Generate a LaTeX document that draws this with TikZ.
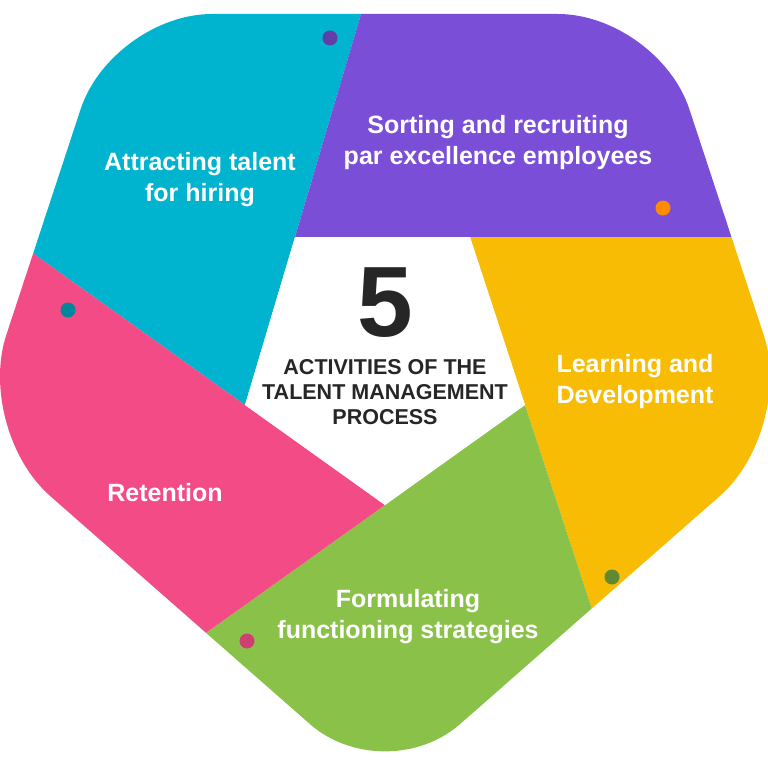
\documentclass[tikz,border=0pt]{standalone}
\usepackage{fontspec}
\setmainfont{Liberation Sans}
\definecolor{cyanseg}{HTML}{00B4CF}
\definecolor{purpleseg}{HTML}{7A4ED6}
\definecolor{yellowseg}{HTML}{F9BC05}
\definecolor{greenseg}{HTML}{8AC249}
\definecolor{pinkseg}{HTML}{F34B86}
\tikzset{
    label/.style={text=white,font=\bfseries\fontsize{25}{31}\selectfont,align=center},
    dot/.style={circle,minimum size=15pt,inner sep=0pt}
}
\begin{document}
\begin{tikzpicture}[x=1pt,y=-1pt]
        \useasboundingbox (0,0) rectangle (768,768);
        % inner corners
        \coordinate (i1) at (295,237);
        \coordinate (i2) at (470,237);
        \coordinate (i3) at (525,405);
        \coordinate (i4) at (385,505);
        \coordinate (i5) at (245,405);

        \begin{scope}
            \clip[rounded corners=100pt] (385,14) -- (112,14) -- (-25,430) -- (385,790) -- (795,430) -- (658,14) -- cycle;
            \fill[cyanseg] (-50,194) -- (i5) -- (i1) -- (380,-50) -- (-50,-50) -- cycle;
            \fill[purpleseg] (i1) -- (i2) -- (850,237) -- (850,-50) -- (380,-50) -- cycle;
            \fill[yellowseg] (i2) -- (i3) -- (671,850) -- (850,850) -- (850,237) -- cycle;
            \fill[greenseg] (i3) -- (i4) -- (-98,850) -- (671,850) -- cycle;
            \fill[pinkseg] (i4) -- (i5) -- (-50,194) -- (-100,194) -- (-100,850) -- (-98,850) -- cycle;
        \end{scope}
        \fill[white] (i1) -- (i2) -- (i3) -- (i4) -- (i5) -- cycle;

        \node[dot,fill=purpleseg!80!black] (d1) at (330,38) {};
        \node[dot,fill=orange!90!yellow] (d2) at (663,208) {};
        \node[dot,fill=greenseg!70!black] (d3) at (612,577) {};
        \node[dot,fill=pinkseg!85!black] (d4) at (247,641) {};
        \node[dot,fill=cyanseg!75!black] (d5) at (68,310) {};

        \node[label] (attract) at (200,180) {Attracting talent\\for hiring};
        \node[label] (sort) at (498,143) {Sorting and recruiting\\par excellence employees};
        \node[label] (learn) at (635,382) {Learning and\\Development};
        \node[label] (formul) at (408,617) {Formulating\\functioning strategies};
        \node[label] (retain) at (165,493) {Retention};
        \node[font=\bfseries\fontsize{100}{100}\selectfont,text=black!85] (five) at (385,303) {5};
        \node[font=\bfseries\fontsize{21.5}{25}\selectfont,text=black!85,align=center] (title) at (385,392) {ACTIVITIES OF THE\\TALENT MANAGEMENT\\PROCESS};
    \end{tikzpicture}
\end{document}
